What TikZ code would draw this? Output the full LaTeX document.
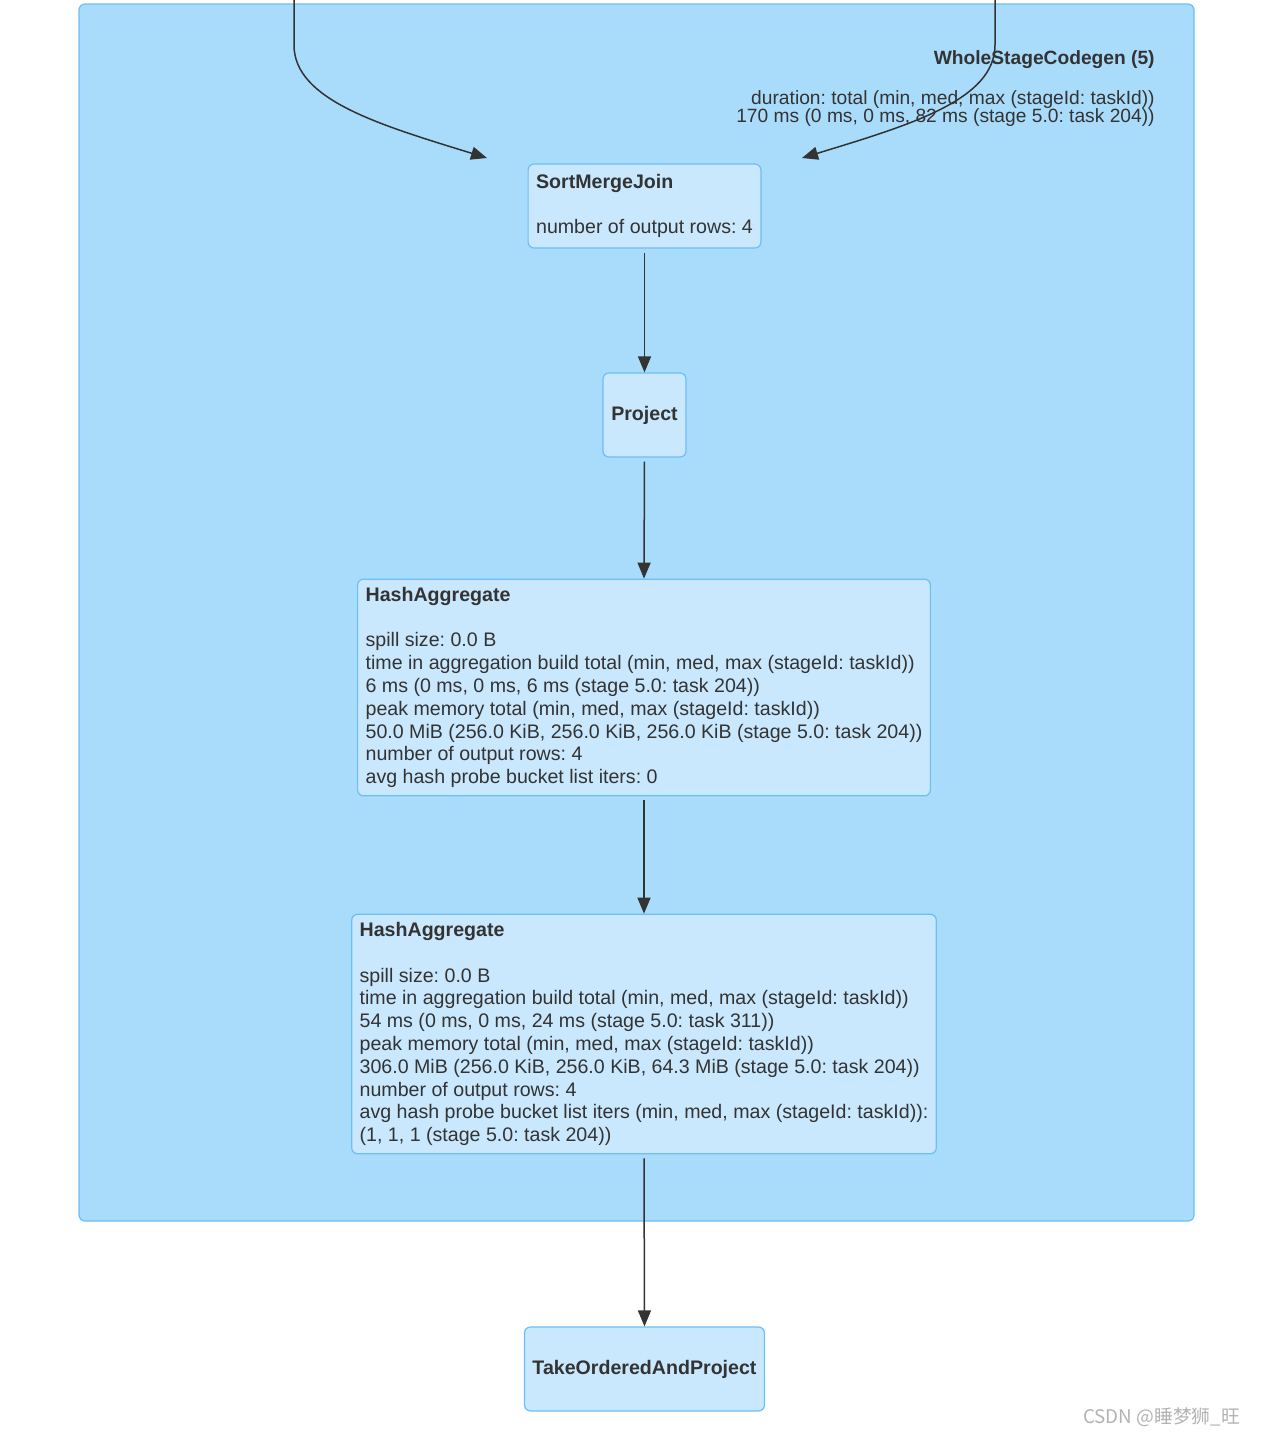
\documentclass[tikz,border=0pt]{standalone}
\usepackage{fontspec}
\setmainfont{Liberation Sans}
\newfontfamily\cjk{Noto Sans CJK SC}
\usepackage{tikz}
\usetikzlibrary{arrows.meta}

\definecolor{clusterfill}{HTML}{A9DCFB}
\definecolor{clusterline}{HTML}{6BBFF5}
\definecolor{nodefill}{HTML}{C9E8FD}
\definecolor{inktext}{HTML}{333333}

\newcommand\planfont{\fontsize{9.8}{11.4}\selectfont\frenchspacing}
\newcommand\stagefont{\fontsize{9.6}{9}\selectfont\frenchspacing\lineskiplimit=-20pt}

\tikzset{
  plannode/.style={draw=clusterline, fill=nodefill, rounded corners=3pt, line width=0.6pt,
    inner sep=4pt, align=left, minimum height=42pt, font=\planfont, text=inktext},
  flow/.style={draw=inktext, line width=0.75pt, -{Triangle[length=8pt,width=6.5pt]}}
}

\begin{document}
\begin{tikzpicture}[x=0.5pt,y=-0.5pt]
\useasboundingbox (0,0) rectangle (1262,1436);
% the codegen stage
\draw[draw=clusterline,fill=clusterfill,rounded corners=3pt,line width=0.6pt] (79,4) rectangle (1194,1221);
\node (stagelabel) [anchor=north east, align=right, inner sep=0pt, text=inktext, font=\stagefont] at (1155,50)
  {\textbf{WholeStageCodegen (5)}\\[11pt] duration: total (min, med, max (stageId: taskId))\\ 170 ms (0 ms, 0 ms, 82 ms (stage 5.0: task 204))};

\node (smj) [plannode] at (644.5,206) {\textbf{SortMergeJoin}\\[11.4pt] number of output rows: 4};
\node (proj) [plannode, minimum width=41.5pt, align=center] at (644.5,415) {\textbf{Project}};
\node (hagg1) [plannode] at (644,687.5) {\textbf{HashAggregate}\\[11.4pt]
  spill size: 0.0 B\\
  time in aggregation build total (min, med, max (stageId: taskId))\\
  6 ms (0 ms, 0 ms, 6 ms (stage 5.0: task 204))\\
  peak memory total (min, med, max (stageId: taskId))\\
  50.0 MiB (256.0 KiB, 256.0 KiB, 256.0 KiB (stage 5.0: task 204))\\
  number of output rows: 4\\
  avg hash probe bucket list iters: 0};
\node (hagg2) [plannode] at (644,1034) {\textbf{HashAggregate}\\[11.4pt]
  spill size: 0.0 B\\
  time in aggregation build total (min, med, max (stageId: taskId))\\
  54 ms (0 ms, 0 ms, 24 ms (stage 5.0: task 311))\\
  peak memory total (min, med, max (stageId: taskId))\\
  306.0 MiB (256.0 KiB, 256.0 KiB, 64.3 MiB (stage 5.0: task 204))\\
  number of output rows: 4\\
  avg hash probe bucket list iters (min, med, max (stageId: taskId)):\\
  (1, 1, 1 (stage 5.0: task 204))};
\node (take) [plannode] at (644.5,1369) {\textbf{TakeOrderedAndProject}};

% edges coming in from above
\coordinate (fromleft) at (294,0);
\coordinate (fromright) at (995,0);
\coordinate (inleft) at (487,158);
\coordinate (inright) at (802,158);
\draw[flow] (fromleft) -- (294,45) .. controls (294,100) and (380,125) .. (inleft);
\draw[flow] (fromright) -- (995,45) .. controls (995,100) and (910,125) .. (inright);

\foreach \a/\b in {smj/proj,proj/hagg1,hagg1/hagg2,hagg2/take}
  \draw[flow, shorten <=2pt] (\a.south) -- (\b.north);

\node (mark) [anchor=east, text=gray!60, font=\cjk\fontsize{9.4}{10}\selectfont] at (1247,1417) {CSDN @睡梦狮\_旺};
\end{tikzpicture}
\end{document}
